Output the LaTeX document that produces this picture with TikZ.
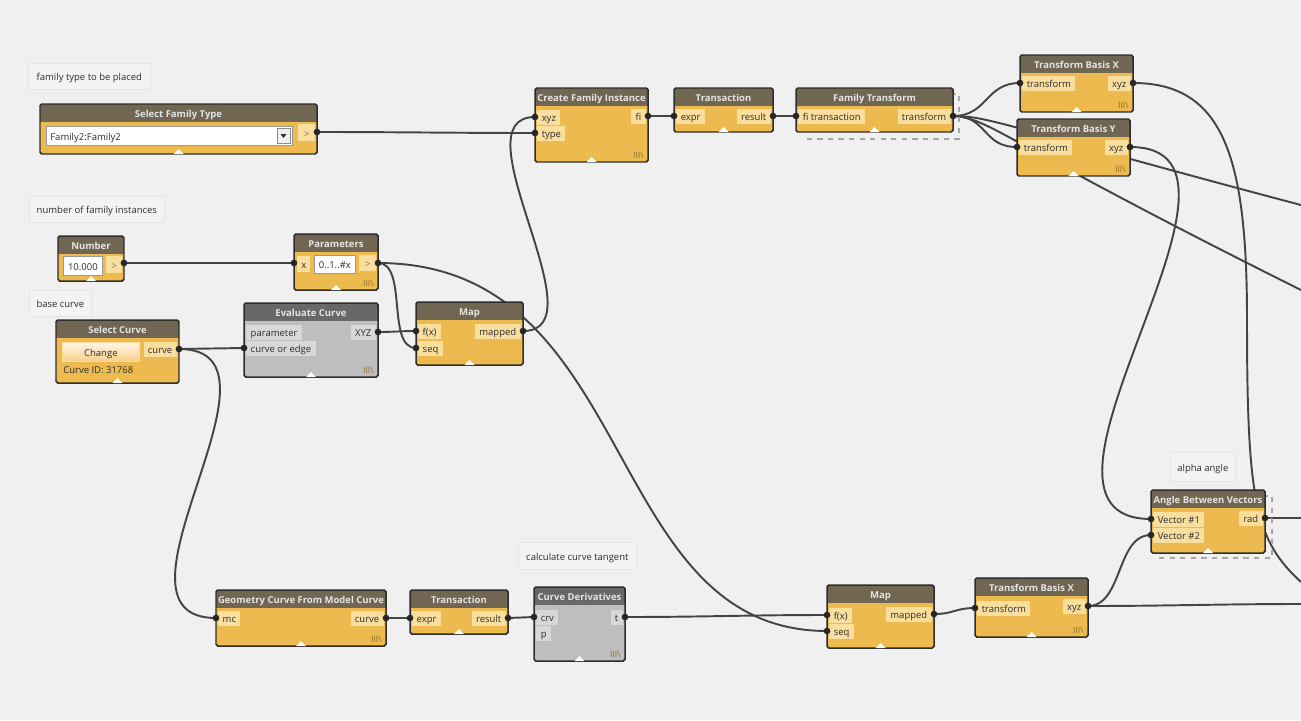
\documentclass[tikz,border=0pt]{standalone}
\usepackage{fontspec}
\setmainfont{Open Sans}
\usepackage{tikz}
\usetikzlibrary{calc,positioning,shadows}
\definecolor{canvas}{RGB}{240,240,240}
\definecolor{headbrown}{RGB}{112,102,82}
\definecolor{bodyorange}{RGB}{236,186,78}
\definecolor{labpale}{RGB}{249,222,158}
\definecolor{headgrey}{RGB}{104,104,104}
\definecolor{bodygrey}{RGB}{190,190,190}
\definecolor{labgrey}{RGB}{216,216,216}
\definecolor{wirecol}{RGB}{68,68,68}
\definecolor{notefill}{RGB}{243,243,243}
\definecolor{lacecol}{RGB}{140,108,45}
\definecolor{inkdark}{RGB}{45,45,45}
\pgfdeclarelayer{canvaslayer}
\pgfdeclarelayer{wires}
\pgfsetlayers{canvaslayer,wires,main}

\tikzset{
  dynfont/.style={font=\fontsize{5.4}{6.5}\selectfont},
  evenline/.style={text height=5.9pt, text depth=1pt},
  headtitle/.style={font=\fontsize{5.4}{6.5}\selectfont\bfseries, text=white!90!black, inner sep=0pt, evenline},
  nodeline/.style={draw=inkdark, line width=0.85pt, rounded corners=1pt},
  portlab/.style={dynfont, text=inkdark, inner xsep=2.5pt, inner ysep=0pt, minimum height=15*0.02cm, evenline},
  note/.style={dynfont, text=inkdark, fill=notefill, draw=black!10, anchor=north west, evenline,
    inner sep=0pt, drop shadow={opacity=0.12, shadow xshift=0.6pt, shadow yshift=-0.6pt}},
  wire/.style={draw=wirecol, line width=1.1pt},
  selbox/.style={draw=black!35, dashed, line width=0.6pt},
  valbox/.style={fill=white, draw=black!40, line width=0.4pt, evenline},
}

% node body, header, title and expand marker
\newcommand{\dynnode}[8]{%
  \node[anchor=north west, inner sep=0pt, outer sep=0pt, fill=#7,
    minimum width=#4*0.02cm, minimum height=#5*0.02cm] (#1) at (#2,#3) {};
  \fill[#8] (#1.north west) rectangle ($(#1.north east)+(0,18)$);
  \draw[nodeline] (#1.north west) rectangle (#1.south east);
  \node[headtitle] (#1-title) at ($(#1.north)+(0,9.5)$) {#6};
  \fill[white] ($(#1.south)+(-5,0)$) -- ($(#1.south)+(5,0)$) -- ($(#1.south)+(0,-5)$) -- cycle;
}
\newcommand{\inlab}[5][labpale]{%
  \node[portlab, fill=#1, anchor=west] (#2-#3l) at ($(#2.north west)+(2,#4)$) {#5};
  \coordinate (#2-#3) at ($(#2.north west)+(0,#4)$);
}
\newcommand{\outlab}[5][labpale]{%
  \node[portlab, fill=#1, anchor=east] (#2-#3l) at ($(#2.north east)+(-2,#4)$) {#5};
  \coordinate (#2-#3) at ($(#2.north east)+(0,#4)$);
}
\newcommand{\lacing}[1]{%
  \node[font=\fontsize{5}{5}\selectfont, text=lacecol, inner sep=0pt, anchor=south east]
    (#1-lace) at ($(#1.south east)+(-4,-3)$) {III\textbackslash};
}

\begin{document}
\begin{tikzpicture}[x=0.02cm, y=-0.02cm, dynfont]
  \begin{pgfonlayer}{canvaslayer}
    \fill[canvas] (0,0) rectangle (1301,720);
  \end{pgfonlayer}
  \useasboundingbox (0,0) rectangle (1301,720);
  \clip (0,0) rectangle (1301,720);

  % notes
  \node[note, minimum width=122*0.02cm, minimum height=26*0.02cm] (n-ftype) at (28,63) {family type to be placed};
  \node[note, minimum width=135*0.02cm, minimum height=26*0.02cm] (n-count) at (29,196) {number of family instances};
  \node[note, minimum width=62*0.02cm, minimum height=26*0.02cm] (n-base) at (29,290) {base curve};
  \node[note, minimum width=118*0.02cm, minimum height=27*0.02cm] (n-tang) at (518,542) {calculate curve tangent};
  \node[note, minimum width=65*0.02cm, minimum height=29*0.02cm] (n-alpha) at (1170,452) {alpha angle};

  % selection outlines
  \draw[selbox] (803,94) -- (959,94) -- (959,139) -- (803,139);
  \draw[selbox] (1157,496) -- (1272,496) -- (1272,558) -- (1157,558);

  % top row
  \dynnode{sft}{40}{104}{277}{50}{Select Family Type}{bodyorange}{headbrown}
  \node[valbox, anchor=north west, inner sep=0pt, minimum width=246*0.02cm, minimum height=19*0.02cm] (sft-drop) at (46,126) {};
  \node[anchor=west, text=inkdark, inner sep=0pt, evenline] (sft-val) at ($(sft-drop.west)+(4,0)$) {Family2:Family2};
  \draw[fill=black!6, draw=black!45, line width=0.4pt] (277,128) rectangle (290,143);
  \fill[inkdark] (280.5,134) -- (286.5,134) -- (283.5,138) -- cycle;
  \node[portlab, fill=labpale, text=black!55, anchor=north west, minimum width=17*0.02cm, minimum height=17*0.02cm, inner sep=0pt] (sft-btn) at (298,124) {>};
  \coordinate (sft-out) at (317,132);

  \dynnode{cfi}{535}{88}{113}{74}{Create Family Instance}{bodyorange}{headbrown}
  \inlab{cfi}{xyz}{29}{xyz}
  \inlab{cfi}{type}{45}{type}
  \outlab{cfi}{fi}{28}{fi}
  \lacing{cfi}

  \dynnode{tra}{674}{88}{99}{44}{Transaction}{bodyorange}{headbrown}
  \inlab{tra}{expr}{28}{expr}
  \outlab{tra}{res}{28}{result}

  \dynnode{ft}{796}{88}{157}{44}{Family Transform}{bodyorange}{headbrown}
  \inlab{ft}{fit}{28}{fi transaction}
  \outlab{ft}{tf}{28}{transform}

  \dynnode{tbxa}{1020}{55}{113}{57}{Transform Basis X}{bodyorange}{headbrown}
  \inlab{tbxa}{tf}{28}{transform}
  \outlab{tbxa}{xyz}{28}{xyz}
  \lacing{tbxa}

  \dynnode{tby}{1017}{119}{113}{57}{Transform Basis Y}{bodyorange}{headbrown}
  \inlab{tby}{tf}{28}{transform}
  \outlab{tby}{xyz}{28}{xyz}
  \lacing{tby}

  % inputs on the left
  \dynnode{num}{58}{236}{66}{45}{Number}{bodyorange}{headbrown}
  \node[valbox, anchor=north west, inner sep=0pt, minimum width=39*0.02cm, minimum height=19*0.02cm, text=inkdark] (num-val) at (63,256) {10.000};
  \node[portlab, fill=labpale, text=black!55, anchor=north west, minimum width=16*0.02cm, minimum height=17*0.02cm, inner sep=0pt] (num-btn) at (106,256) {>};
  \coordinate (num-out) at (124,263);

  \dynnode{par}{294}{234}{84}{56}{Parameters}{bodyorange}{headbrown}
  \node[portlab, fill=labpale, anchor=north west, minimum width=13*0.02cm, minimum height=16*0.02cm, inner sep=0pt] (par-xl) at (297,256) {x};
  \node[valbox, anchor=north west, inner sep=0pt, minimum width=41*0.02cm, minimum height=18*0.02cm, text=inkdark] (par-val) at (314,255) {0..1..\#x};
  \node[portlab, fill=labpale, text=black!55, anchor=north west, minimum width=17*0.02cm, minimum height=16*0.02cm, inner sep=0pt] (par-btn) at (359,255) {>};
  \coordinate (par-x) at (294,263);
  \coordinate (par-out) at (378,263);
  \lacing{par}

  \dynnode{sc}{56}{320}{123}{63}{Select Curve}{bodyorange}{headbrown}
  \node[anchor=north west, inner sep=0pt, minimum width=77*0.02cm, minimum height=19*0.02cm, evenline,
    top color=white!92!orange, bottom color=labpale!85!orange, draw=labpale, text=inkdark] (sc-btn) at (62,342) {Change};
  \outlab{sc}{out}{29}{curve}
  \node[anchor=west, text=inkdark, inner sep=0pt, evenline] (sc-id) at (63,369) {Curve ID: 31768};

  \dynnode{ec}{244}{303}{134}{74}{Evaluate Curve}{bodygrey}{headgrey}
  \inlab[labgrey]{ec}{par}{29}{parameter}
  \inlab[labgrey]{ec}{crv}{45}{curve or edge}
  \outlab[labgrey]{ec}{xyz}{29}{XYZ}
  \lacing{ec}

  \dynnode{mapa}{416}{302}{107}{63}{Map}{bodyorange}{headbrown}
  \inlab{mapa}{fx}{29}{f(x)}
  \inlab{mapa}{seq}{46}{seq}
  \outlab{mapa}{out}{29}{mapped}

  % bottom row
  \dynnode{gcm}{216}{590}{170}{56}{Geometry Curve From Model Curve}{bodyorange}{headbrown}
  \inlab{gcm}{mc}{28}{mc}
  \outlab{gcm}{out}{28}{curve}
  \lacing{gcm}

  \dynnode{trb}{410}{590}{98}{44}{Transaction}{bodyorange}{headbrown}
  \inlab{trb}{expr}{28}{expr}
  \outlab{trb}{res}{28}{result}

  \dynnode{cd}{534}{587}{91}{74}{Curve Derivatives}{bodygrey}{headgrey}
  \inlab[labgrey]{cd}{crv}{30}{crv}
  \inlab[labgrey]{cd}{p}{46}{p}
  \outlab[labgrey]{cd}{t}{30}{t}
  \lacing{cd}

  \dynnode{mapb}{827}{585}{107}{63}{Map}{bodyorange}{headbrown}
  \inlab{mapb}{fx}{30}{f(x)}
  \inlab{mapb}{seq}{46}{seq}
  \outlab{mapb}{out}{29}{mapped}

  \dynnode{tbxb}{975}{578}{113}{59}{Transform Basis X}{bodyorange}{headbrown}
  \inlab{tbxb}{tf}{30}{transform}
  \outlab{tbxb}{xyz}{28}{xyz}
  \lacing{tbxb}

  \dynnode{abv}{1151}{490}{114}{63}{Angle Between Vectors}{bodyorange}{headbrown}
  \inlab{abv}{v1}{29}{Vector \#1}
  \inlab{abv}{v2}{45}{Vector \#2}
  \outlab{abv}{rad}{28}{rad}

  % wires leaving the view
  \coordinate (edge-a) at (1301,205);
  \coordinate (edge-b) at (1301,290);
  \coordinate (edge-c) at (1301,582);
  \coordinate (edge-d) at (1301,518);
  \coordinate (edge-e) at (1301,604);

  \begin{pgfonlayer}{wires}
    \draw[wire] (sft-out) .. controls +(80,0) and +(-80,0) .. (cfi-type);
    \draw[wire] (num-out) .. controls +(60,0) and +(-60,0) .. (par-x);
    \draw[wire] (par-out) .. controls +(30,0) and +(-30,0) .. (mapa-seq);
    \draw[wire] (par-out) .. controls +(262,0) and +(-227,0) .. (mapb-seq);
    \draw[wire] (ec-xyz) .. controls +(15,0) and +(-15,0) .. (mapa-fx);
    \draw[wire] (sc-out) -- (ec-crv);
    \draw[wire] (sc-out) .. controls +(125,0) and +(-125,0) .. (gcm-mc);
    \draw[wire] (mapa-out) .. controls +(80,0) and +(-80,0) .. (cfi-xyz);
    \draw[wire] (cfi-fi) -- (tra-expr);
    \draw[wire] (tra-res) -- (ft-fit);
    \draw[wire] (ft-tf) .. controls +(35,0) and +(-35,0) .. (tbxa-tf);
    \draw[wire] (ft-tf) .. controls +(35,0) and +(-35,0) .. (tby-tf);
    \draw[wire] (ft-tf) .. controls +(37,0) and (1010,128) .. (edge-a);
    \draw[wire] (ft-tf) .. controls +(37,2) and (1000,140) .. (edge-b);
    \draw[wire] (tby-xyz) .. controls +(160,0) and +(-160,0) .. (abv-v1);
    \draw[wire] (tbxa-xyz) .. controls (1225,83) and (1247,160) .. (1247,320)
      .. controls (1247,500) and (1255,540) .. (edge-c);
    \draw[wire] (abv-rad) -- (edge-d);
    \draw[wire] (tbxb-xyz) .. controls +(35,0) and +(-35,0) .. (abv-v2);
    \draw[wire] (tbxb-xyz) .. controls +(80,0) and +(-80,0) .. (edge-e);
    \draw[wire] (gcm-out) -- (trb-expr);
    \draw[wire] (trb-res) -- (cd-crv);
    \draw[wire] (cd-t) .. controls +(80,0) and +(-80,0) .. (mapb-fx);
    \draw[wire] (mapb-out) .. controls +(20,0) and +(-20,0) .. (tbxb-tf);
  \end{pgfonlayer}

  % port dots where wires attach
  \foreach \p in {sft-out,cfi-type,cfi-xyz,cfi-fi,tra-expr,tra-res,ft-fit,ft-tf,
      tbxa-tf,tbxa-xyz,tby-tf,tby-xyz,num-out,par-x,par-out,sc-out,ec-crv,ec-xyz,
      mapa-fx,mapa-seq,mapa-out,gcm-mc,gcm-out,trb-expr,trb-res,cd-crv,cd-t,
      mapb-fx,mapb-seq,mapb-out,tbxb-tf,tbxb-xyz,abv-v1,abv-v2,abv-rad}
    \fill[black!85] (\p) circle (1.9pt);
\end{tikzpicture}
\end{document}
